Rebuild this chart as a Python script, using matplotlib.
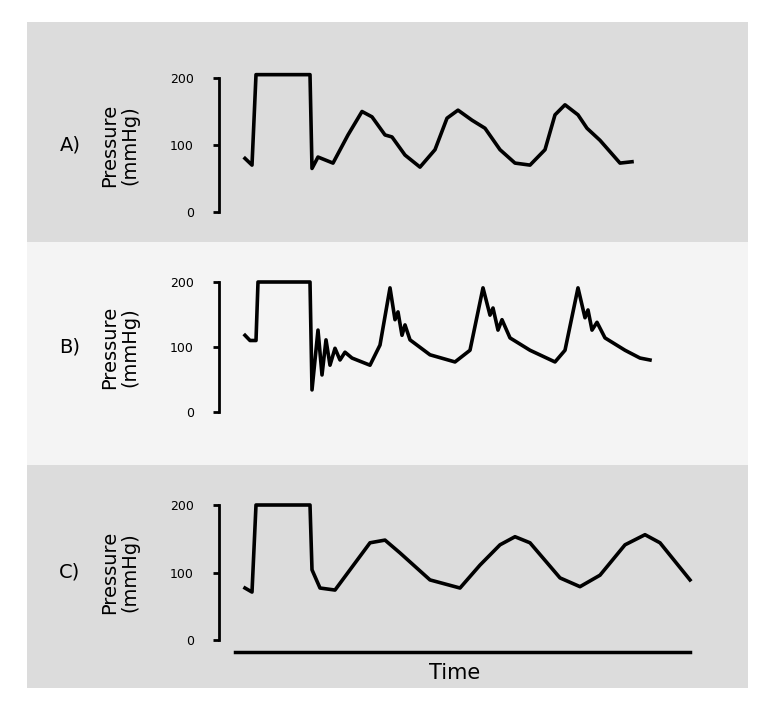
import matplotlib
matplotlib.use("Agg")
import matplotlib.pyplot as plt
from matplotlib.patches import Rectangle

W, H = 768, 701
ticks = [0, 100, 200]
labels = ["A)", "B)", "C)"]

tA = [15, 22, 26, 80, 82, 88, 103, 118, 132, 142, 155, 162, 175, 190, 205, 217, 228, 242, 255, 270, 285, 300, 315, 325, 335, 348, 357, 370, 390, 402]
pA = [80, 70, 205, 205, 65, 82, 73, 115, 150, 142, 115, 112, 85, 67, 93, 140, 152, 137, 125, 93, 73, 70, 93, 145, 160, 145, 125, 107, 73, 75]
tB = [15, 20, 26, 28, 80, 82, 88, 92, 96, 100, 105, 110, 115, 122, 140, 150, 160, 165, 168, 172, 175, 180, 200, 225, 240, 253, 260, 263, 268, 272, 280, 300, 325, 335, 348, 355, 358, 362, 367, 375, 395, 410, 420]
pB = [118, 110, 110, 200, 200, 34, 126, 57, 111, 72, 98, 80, 92, 83, 72, 103, 191, 142, 154, 118, 134, 111, 88, 77, 95, 191, 149, 160, 126, 142, 114, 95, 77, 95, 191, 145, 157, 126, 138, 114, 95, 83, 80]
tC = [15, 22, 26, 80, 82, 90, 105, 120, 140, 155, 170, 200, 230, 250, 270, 285, 300, 330, 350, 370, 395, 415, 430, 460]
pC = [77, 71, 200, 200, 104, 77, 74, 104, 144, 148, 129, 89, 77, 111, 141, 153, 144, 92, 79, 96, 141, 156, 144, 89]

series = [(tA, pA), (tB, pB), (tC, pC)]
bg = [(22, 242, "#dcdcdc"), (242, 465, "#f4f4f4"), (465, 688, "#dcdcdc")]
yr = [(78, 212), (282, 412), (505, 640)]

fig = plt.figure(figsize=(W/100, H/100), dpi=100)
fig.patch.set_facecolor("white")
for (y0, y1, c) in bg:
    fig.add_artist(Rectangle((27/W, 1-y1/H), 721/W, (y1-y0)/H, transform=fig.transFigure,
                             facecolor=c, edgecolor="none", zorder=-10))

x0, x1 = 230, 700
for i, ((t, p), (ytop, ybot), lab) in enumerate(zip(series, yr, labels)):
    ax = fig.add_axes([x0/W, 1-ybot/H, (x1-x0)/W, (ybot-ytop)/H])
    ax.set_zorder(5)
    ax.patch.set_alpha(0)
    ax.plot(t, p, color="black", lw=2.6, solid_joinstyle="round", clip_on=False)
    ax.set_xlim(0, x1-x0)
    ax.set_ylim(0, 200)
    for s in ["top", "right", "bottom"]:
        ax.spines[s].set_visible(False)
    ax.spines["left"].set_position(("outward", 8))
    ax.spines["left"].set_linewidth(2)
    ax.set_xticks([])
    ax.set_yticks(ticks)
    ax.tick_params(axis="y", length=4, width=2, labelsize=9, pad=14)
    yc = 1-(ytop+ybot)/2/H
    fig.text(70/W, yc, lab, fontsize=14, ha="center", va="center", zorder=6)
    fig.text(120/W, yc, "Pressure\n(mmHg)", fontsize=14, ha="center", va="center", rotation=90,
             linespacing=1.1, zorder=6)

axT = fig.add_axes([x0/W, 1-660/H, (x1-x0)/W, 16/H])
axT.set_zorder(5)
axT.axis("off")
axT.set_xlim(0, x1-x0); axT.set_ylim(0, 1)
axT.plot([5, 460], [0.5, 0.5], color="black", lw=2.5)
fig.text(455/W, 1-673/H, "Time", fontsize=15, ha="center", va="center", zorder=6)

fig.savefig("out.png", dpi=100)
